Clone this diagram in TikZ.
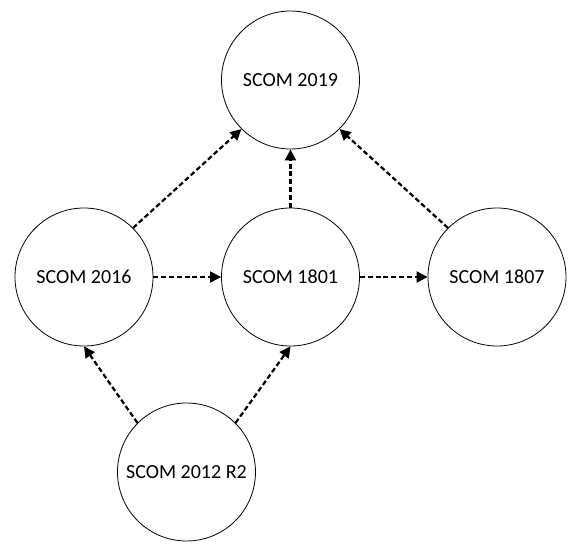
\documentclass[tikz,border=0pt]{standalone}
\usepackage{fontspec}
\setmainfont{Carlito}
\usetikzlibrary{arrows.meta}
\begin{document}
\begin{tikzpicture}[x=1pt,y=-1pt,
  ver/.style={draw=black,line width=0.8pt,circle,minimum size=138pt,inner sep=0pt,font=\fontsize{20}{24}\selectfont},
  dep/.style={line width=2.2pt,dash pattern=on 5pt off 2.8pt,-{Triangle[length=11pt,width=11pt]}}]
\useasboundingbox (0,0) rectangle (582,555);
\node[ver] (s2019) at (290.5,80) {SCOM 2019};
\node[ver] (s2016) at (84,277) {SCOM 2016};
\node[ver] (s1801) at (290.5,277) {SCOM 1801};
\node[ver] (s1807) at (497,277) {SCOM 1807};
\node[ver] (s2012) at (186.5,472) {SCOM 2012 R2};
\draw[dep] (s2016.north east) -- (s2019.south west);
\draw[dep] (s1801.north) -- (s2019.south);
\draw[dep] (s1807.north west) -- (s2019.south east);
\draw[dep] (s2016.east) -- (s1801.west);
\draw[dep] (s1801.east) -- (s1807.west);
\draw[dep] (s2012.north west) -- (s2016.south);
\draw[dep] (s2012.north east) -- (s1801.south);
\end{tikzpicture}
\end{document}
